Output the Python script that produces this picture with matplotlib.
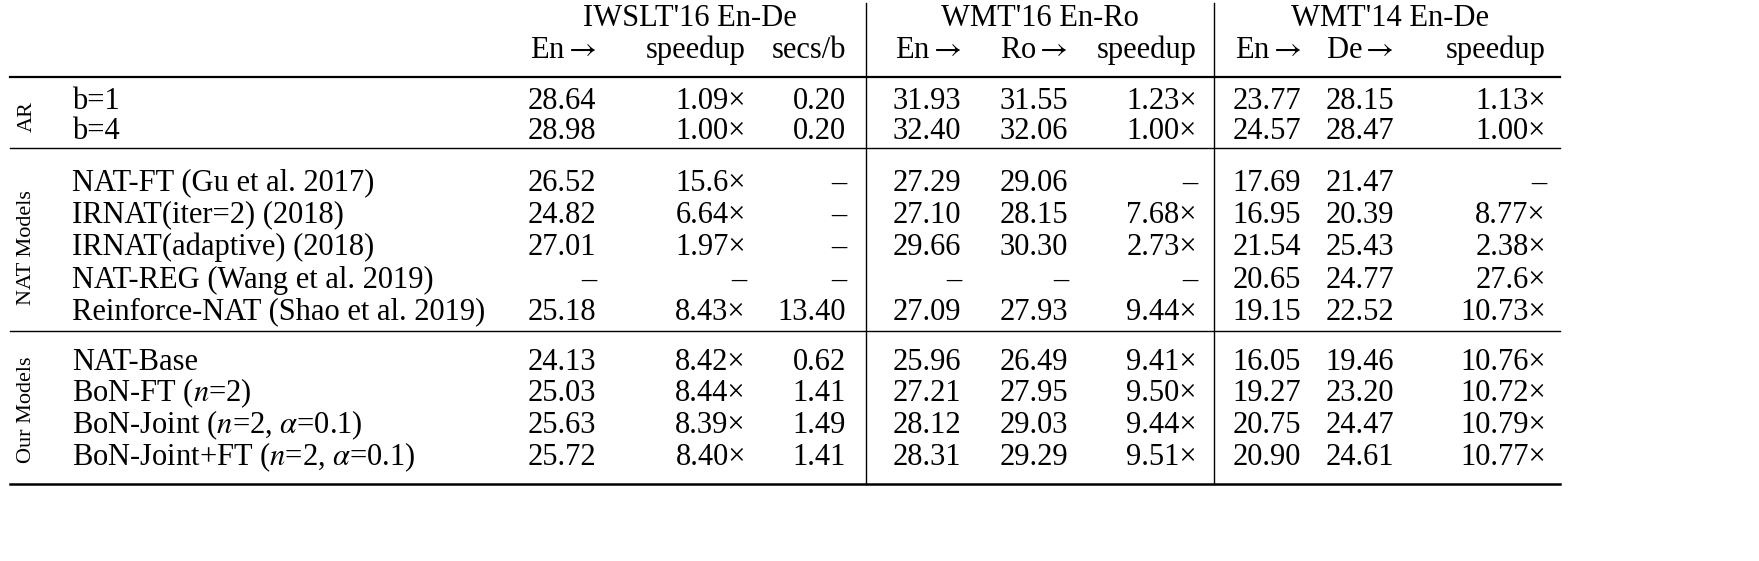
import matplotlib
matplotlib.use("Agg")
import matplotlib.pyplot as plt

plt.rcParams["font.family"] = ["Liberation Serif", "DejaVu Serif"]
plt.rcParams["mathtext.fontset"] = "stix"

groups = ["IWSLT'16 En-De", "WMT'16 En-Ro", "WMT'14 En-De"]
subheads = ["En$\\rightarrow$", "speedup", "secs/b", "En$\\rightarrow$", "Ro$\\rightarrow$",
            "speedup", "En$\\rightarrow$", "De$\\rightarrow$", "speedup"]

ar_rows = ["b=1", "b=4"]
ar_vals = [
    ["28.64", "1.09×", "0.20", "31.93", "31.55", "1.23×", "23.77", "28.15", "1.13×"],
    ["28.98", "1.00×", "0.20", "32.40", "32.06", "1.00×", "24.57", "28.47", "1.00×"],
]
nat_rows = ["NAT-FT (Gu et al. 2017)", "IRNAT(iter=2) (2018)", "IRNAT(adaptive) (2018)",
            "NAT-REG (Wang et al. 2019)", "Reinforce-NAT (Shao et al. 2019)"]
nat_vals = [
    ["26.52", "15.6×", "–", "27.29", "29.06", "–", "17.69", "21.47", "–"],
    ["24.82", "6.64×", "–", "27.10", "28.15", "7.68×", "16.95", "20.39", "8.77×"],
    ["27.01", "1.97×", "–", "29.66", "30.30", "2.73×", "21.54", "25.43", "2.38×"],
    ["–", "–", "–", "–", "–", "–", "20.65", "24.77", "27.6×"],
    ["25.18", "8.43×", "13.40", "27.09", "27.93", "9.44×", "19.15", "22.52", "10.73×"],
]
our_rows = ["NAT-Base", "BoN-FT ($n$=2)", "BoN-Joint ($n$=2, $\\alpha$=0.1)",
            "BoN-Joint+FT ($n$=2, $\\alpha$=0.1)"]
our_vals = [
    ["24.13", "8.42×", "0.62", "25.96", "26.49", "9.41×", "16.05", "19.46", "10.76×"],
    ["25.03", "8.44×", "1.41", "27.21", "27.95", "9.50×", "19.27", "23.20", "10.72×"],
    ["25.63", "8.39×", "1.49", "28.12", "29.03", "9.44×", "20.75", "24.47", "10.79×"],
    ["25.72", "8.40×", "1.41", "28.31", "29.29", "9.51×", "20.90", "24.61", "10.77×"],
]

W, H = 1759, 561
fig = plt.figure(figsize=(W / 100, H / 100), dpi=100)
ax = fig.add_axes([0, 0, 1, 1])
ax.set_xlim(0, W)
ax.set_ylim(H, 0)
ax.axis("off")

fs = 22
col_right = [596, 746, 846, 961, 1068, 1197, 1301, 1394, 1546]
group_x = [690, 1040, 1390]
vlines = [866, 1214]

for g, x in zip(groups, group_x):
    ax.text(x, 18, g, ha="center", va="center", fontsize=fs)
for s, x in zip(subheads, col_right):
    ax.text(x, 50, s, ha="right", va="center", fontsize=fs)

def block(names, vals, ys, label):
    for name, row, y in zip(names, vals, ys):
        ax.text(72, y, name, ha="left", va="center", fontsize=fs)
        for v, x in zip(row, col_right):
            ax.text(x, y, v, ha="right", va="center", fontsize=fs)
    ax.text(27, (ys[0] + ys[-1]) / 2, label, rotation=90, ha="center", va="center", fontsize=16)

block(ar_rows, ar_vals, [101, 131], "AR")
block(nat_rows, nat_vals, [183, 215, 247, 280, 312], "NAT Models")
block(our_rows, our_vals, [362, 393, 425, 457], "Our Models")

ax.plot([10, 1560], [77, 77], color="black", lw=1.6)
ax.plot([10, 1560], [148, 148], color="black", lw=1.0)
ax.plot([10, 1560], [331, 331], color="black", lw=1.0)
ax.plot([10, 1560], [484, 484], color="black", lw=1.8)
for x in vlines:
    ax.plot([x, x], [3, 484], color="black", lw=1.0)

fig.savefig("out.png", dpi=100)
